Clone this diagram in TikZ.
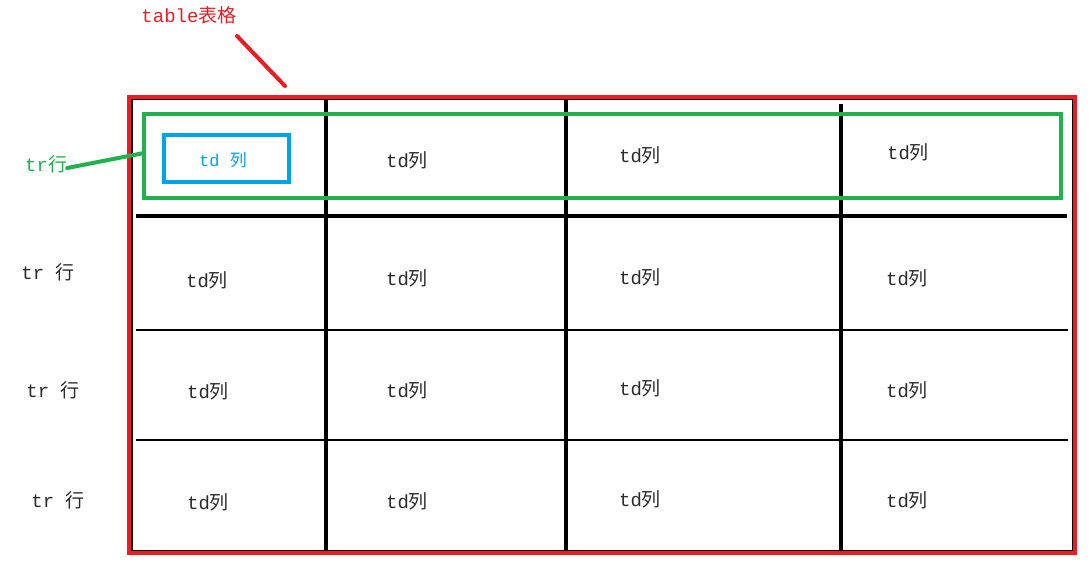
\documentclass[tikz,border=0pt]{standalone}
\usepackage{fontspec}
\setmainfont{Liberation Mono}
\newfontfamily\cjk{Noto Sans CJK SC}
\definecolor{pred}{HTML}{ED1C24}
\definecolor{pgreen}{HTML}{22B14C}
\definecolor{pblue}{HTML}{00A2E8}
\definecolor{ptext}{HTML}{2B2B2B}
\newcommand{\tdl}{td{\cjk 列}}
\begin{document}
\begin{tikzpicture}[x=1pt,y=-1pt,
  lbl/.style={font=\fontsize{19}{19}\selectfont, text=ptext, inner sep=0pt},
  gridthick/.style={line width=4pt, black},
  gridthin/.style={line width=2.8pt, black},
  boxred/.style={draw=pred, line width=4pt},
  boxgreen/.style={draw=pgreen, line width=4pt},
  boxblue/.style={draw=pblue, line width=4pt}]
\useasboundingbox[fill=white] (0,0) rectangle (1091,568);

% outer table border
\draw[line width=2.5pt, black] (132,99) rectangle (1073,551);
% column lines
\draw[gridthick] (326,99) -- (326,551);
\draw[gridthick] (566,99) -- (566,551);
\draw[gridthick] (841,104) -- (841,551);
% row lines
\draw[gridthick] (136,216) -- (1067,216);
\draw[gridthin] (136,330) -- (1068,330);
\draw[gridthin] (136,440) -- (1068,440);
% red table frame
\draw[boxred] (129,97) rectangle (1075,553);
% green row box
\draw[boxgreen] (144,114) rectangle (1061,198);
% blue cell box
\draw[boxblue] (164,135) rectangle (289,182);

% labels
\node[lbl, text=pred] (tablelbl) at (189,15) {table{\cjk 表格}};
\coordinate (slashA) at (237,36);
\coordinate (slashB) at (285,86);
\draw[pred, line width=4pt, line cap=round] (slashA) -- (slashB);

\node[lbl, text=pgreen, anchor=west] (trg) at (25,164) {tr{\cjk 行}};
\coordinate (rowedge) at (144,153);
\draw[pgreen, line width=4pt, line cap=round] (trg.east |- 0,168) coordinate (trgend) -- (rowedge);

\node[lbl, text=pblue, font=\fontsize{17}{17}\selectfont] (tdblue) at (223,160) {td {\cjk 列}};

\node[lbl] (tr2) at (48,272) {tr {\cjk 行}};
\node[lbl] (tr3) at (53,390) {tr {\cjk 行}};
\node[lbl] (tr4) at (58,500) {tr {\cjk 行}};

\node[lbl] (c12) at (407,160) {\tdl};
\node[lbl] (c13) at (640,155) {\tdl};
\node[lbl] (c14) at (908,152) {\tdl};

\node[lbl] (c21) at (207,280) {\tdl};
\node[lbl] (c22) at (407,278) {\tdl};
\node[lbl] (c23) at (640,277) {\tdl};
\node[lbl] (c24) at (907,278) {\tdl};

\node[lbl] (c31) at (208,391) {\tdl};
\node[lbl] (c32) at (407,390) {\tdl};
\node[lbl] (c33) at (640,388) {\tdl};
\node[lbl] (c34) at (907,390) {\tdl};

\node[lbl] (c41) at (208,502) {\tdl};
\node[lbl] (c42) at (407,501) {\tdl};
\node[lbl] (c43) at (640,499) {\tdl};
\node[lbl] (c44) at (907,500) {\tdl};
\end{tikzpicture}
\end{document}
